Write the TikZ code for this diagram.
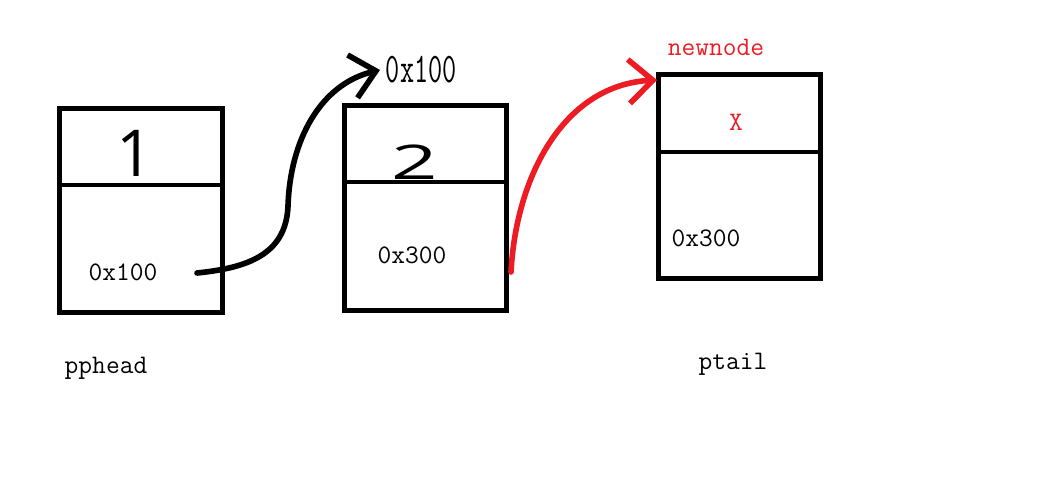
\documentclass[tikz,border=0pt]{standalone}
\usepackage{fontspec}
\usetikzlibrary{arrows.meta}
\newfontfamily\handfont{Open Sans}
\definecolor{paintred}{RGB}{237,28,36}
\tikzset{
    cell/.style={draw, rectangle, line width=3.5pt, minimum width=4.07cm, minimum height=5.12cm},
    lbl/.style={font=\fontsize{19}{21}\selectfont\ttfamily, inner sep=0pt},
    wire/.style={line width=4pt, line cap=round, line join=round, -{Straight Barb[length=6mm, width=11mm]}}
}

\begin{document}
\begin{tikzpicture}[x=0.025cm, y=0.025cm]
    \useasboundingbox (0,0) rectangle (1056,476);
    % the three list nodes
    \node[cell] (box1) at (141,265.5) {};
    \node[cell] (box2) at (425.5,268) {};
    \node[cell] (box3) at (739.5,299.5) {};
    \draw[line width=3.5pt] (box1.west |- 0,291) -- (box1.east |- 0,291);
    \draw[line width=3.5pt] (box2.west |- 0,294) -- (box2.east |- 0,294);
    \draw[line width=3.5pt] (box3.west |- 0,324) -- (box3.east |- 0,324);

    % data fields
    \node[font=\fontsize{46}{48}\selectfont\handfont] (data1) at (135,323) {1};
    \node[font=\fontsize{34}{36}\selectfont\handfont] (data2) at (415,314) {\scalebox{1.7}[1]{2}};
    \node[lbl, text=paintred] (data3) at (736,354) {X};

    % next fields
    \node[lbl] (next1) at (123,204) {0x100};
    \node[lbl] (next2) at (412,221) {0x300};
    \node[lbl] (next3) at (706,238) {0x300};

    % names
    \node[lbl, text=paintred] (newname) at (716,429) {newnode};
    \node[lbl] (headname) at (106,108) {pphead};
    \node[lbl] (tailname) at (733,112) {ptail};
    \node[lbl, font=\fontsize{30}{32}\selectfont\ttfamily, inner sep=4pt, anchor=west] (addr) at (380,406) {\scalebox{0.65}[1]{0x100}};

    % pointers
    \coordinate (ptr1) at (197,203);
    \coordinate (ptr2) at (511,204);
    \coordinate (newin) at (657,396);
    \draw[wire] (ptr1) .. controls (245,208) and (286,220) .. (288,270)
        .. controls (290,335) and (320,392) .. (addr.west);
    \draw[wire, paintred] (ptr2) to[out=87, in=183] (newin);
\end{tikzpicture}
\end{document}
